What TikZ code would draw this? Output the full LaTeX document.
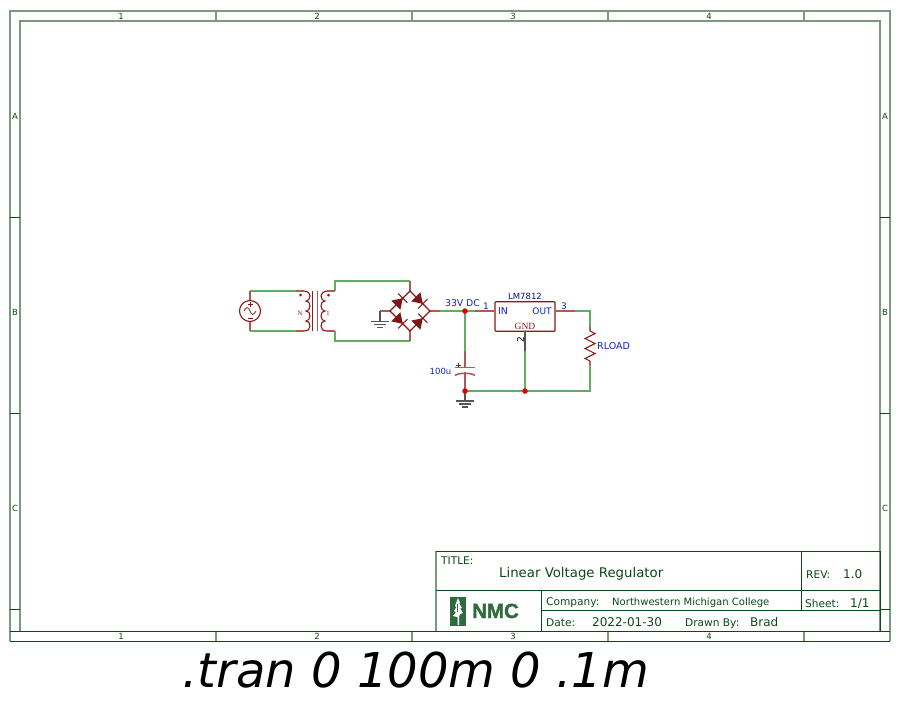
\documentclass[tikz,border=0pt]{standalone}
\usepackage{fontspec}
\setmainfont{DejaVu Sans}
\newfontfamily\serifish{Liberation Serif}
\newfontfamily\nmcfont[BoldFeatures={FakeBold=1.5}]{Liberation Sans}
\definecolor{frm}{HTML}{0B4A14}
\definecolor{frml}{HTML}{7A9A80}
\definecolor{wire}{HTML}{62AD62}
\definecolor{pinc}{HTML}{8B1818}
\definecolor{pinl}{HTML}{AE5A5A}
\definecolor{lab}{HTML}{1020C8}
\definecolor{gndc}{HTML}{555555}
\definecolor{logo}{HTML}{2F6B3F}
% #1 centre, #2 #3 unit direction on the page (y upward)
\newcommand{\diodeat}[3]{\begin{scope}[shift={(#1)},x={(#2pt,#3pt)},y={(-#3pt,#2pt)}]
 \fill[pinc!90!black] (-6,-6.5) -- (4,0) -- (-6,6.5) -- cycle;
 \draw[pinpath] (4,-6.5) -- (4,6.5);
\end{scope}}
\newcommand{\gndat}[1]{\begin{scope}[shift={(#1)}]
 \draw[gndwire] (-9,0) -- (9,0); \draw[gndwire] (-6,3) -- (6,3); \draw[gndwire] (-3,6) -- (3,6);
\end{scope}}
\tikzset{
 frameline/.style={draw=frml,line width=1.8pt},
 frameline2/.style={draw=frm,line width=1pt},
 tbline/.style={draw=frm,line width=1pt},
 tick/.style={font=\fontsize{8.5}{9}\selectfont,text=frm,inner sep=0pt},
 tbtext/.style={font=\fontsize{10.6}{11}\selectfont,text=frm,inner sep=0pt,anchor=base west},
 tbbig/.style={font=\fontsize{12}{13}\selectfont,text=frm,inner sep=0pt,anchor=base west},
 wirepath/.style={draw=wire,line width=1.6pt},
 pinpath/.style={draw=pinc,line width=1.1pt},
 pinlite/.style={draw=pinl,line width=1.6pt},
 gndwire/.style={draw=gndc,line width=1.1pt},
 junction/.style={circle,fill=red!85!black,inner sep=0pt,minimum size=5.5pt},
 bluetext/.style={font=\fontsize{9}{10}\selectfont,text=lab,inner sep=0pt},
 redtext/.style={font=\serifish\fontsize{9.5}{10}\selectfont,text=pinc,inner sep=0pt},
 tiny/.style={font=\serifish\fontsize{6.5}{7}\selectfont,text=pinc,inner sep=0pt},
}
\begin{document}
\begin{tikzpicture}[x=1pt,y=-1pt]
\useasboundingbox (0,0) rectangle (900,705);
% frame
\draw[frameline] (10,641) -- (10,11) -- (890,11) -- (890,641);
\draw[frameline] (20,631) -- (20,21) -- (880,21) -- (880,631);
\foreach \x in {216,412,608,804}{
 \draw[frameline] (\x,11) -- (\x,21);
 \draw[frameline] (\x,631) -- (\x,641);}
\foreach \y in {217,413,609}{
 \draw[frameline2] (10,\y.5) -- (20,\y.5);
 \draw[frameline2] (880,\y.5) -- (890,\y.5);}
\draw[frameline2] (10,631.5) -- (890,631.5);
\draw[frameline2] (10,641.5) -- (890,641.5);
\foreach \x/\t in {121/1,317/2,513/3,709/4}{
 \node[tick] (tt\t) at (\x,16.5) {\t};
 \node[tick] (tb\t) at (\x,636.5) {\t};}
\foreach \y/\t in {116/A,312/B,508/C}{
 \node[tick] (tl\t) at (15,\y) {\t};
 \node[tick] (tr\t) at (885,\y) {\t};}
% title block
\draw[frameline] (436,551) -- (436,631);
\draw[tbline] (436,551.5) -- (880.5,551.5) -- (880.5,631);
\draw[tbline] (436,590.5) -- (880.5,590.5);
\draw[tbline] (801,551.5) -- (801,610.5);
\draw[tbline] (541,610.5) -- (880.5,610.5);
\draw[tbline] (541,590.5) -- (541,631);
\node[tbtext] (ttl) at (441,564.5) {TITLE:};
\node[tbbig,font=\fontsize{13.3}{14}\selectfont] (ttlv) at (499,577) {Linear Voltage Regulator};
\node[tbtext] (rev) at (806,578) {REV:};
\node[tbbig] (revv) at (843,578) {1.0};
\node[tbtext] (sht) at (805,607) {Sheet:};
\node[tbbig] (shtv) at (850,607) {1/1};
\node[tbtext] (cmp) at (546,605) {Company:};
\node[tbtext,font=\fontsize{10.05}{11}\selectfont] (cmpv) at (612,605) {Northwestern Michigan College};
\node[tbtext] (dat) at (546,626) {Date:};
\node[tbbig] (datv) at (592,626) {2022-01-30};
\node[tbtext] (drw) at (685,626) {Drawn By:};
\node[tbbig] (drwv) at (750,626) {Brad};
% logo
\fill[logo] (450,596.5) rectangle (466,626);
\fill[white] (458,598) -- (460,603) -- (459,603) -- (462,608) -- (460,608) -- (463,613) -- (460,614) -- (459,617) -- (459,625) -- (457.5,625) -- (457.5,617) -- (453,616) -- (456,612) -- (454,611) -- (456.5,607) -- (455,606) -- cycle;
\fill[logo] (457.4,604) rectangle (458.2,612);
\node[font=\nmcfont\bfseries\fontsize{20.5}{21}\selectfont,text=logo,inner sep=0pt,anchor=base west] (nmc) at (472,618) {NMC};
% sim directive
\node[font=\itshape\fontsize{48}{50}\selectfont,text=black,inner sep=0pt,anchor=base] (tran) at (416,687) {.tran 0 100m 0 .1m};

% --- schematic coordinates
\coordinate (srcTw) at (250,291); \coordinate (srcBw) at (250,331);
\coordinate (priT) at (296,291); \coordinate (priB) at (296,331);
\coordinate (secT) at (335,291); \coordinate (secB) at (335,331);
\coordinate (secTu) at (335,281); \coordinate (secBd) at (335,341);
\coordinate (brTp) at (410,281); \coordinate (brBp) at (410,341);
\coordinate (brT) at (410,291); \coordinate (brB) at (410,331);
\coordinate (brL) at (390,311); \coordinate (brR) at (430,311);
\coordinate (brLp) at (380,311); \coordinate (brRp) at (440,311);
\coordinate (g1t) at (380,321);
\coordinate (pin1w) at (475,311); \coordinate (pin1) at (495,311);
\coordinate (pin3) at (555,311); \coordinate (pin3w) at (575,311);
\coordinate (pin2) at (525,331); \coordinate (pin2w) at (525,351);
\coordinate (cor) at (590,311); \coordinate (rT) at (590,327); \coordinate (rB) at (590,365);
\coordinate (cbr) at (590,391);
\coordinate (capT) at (465,351); \coordinate (capP) at (465,367.5);
\coordinate (capN) at (465,372); \coordinate (g2t) at (465,401);

\node[circle,draw=pinc,line width=1.1pt,minimum size=21pt,inner sep=0pt] (src) at (250,311) {};
\node[draw=pinc,line width=1.1pt,rounded corners=0.8pt,minimum width=60pt,minimum height=29.5pt,inner sep=0pt] (ic) at (525,316.5) {};

% wires
\draw[wirepath] (srcTw) -- (priT);
\draw[wirepath] (srcBw) -- (priB);
\draw[wirepath] (secT) -- (secTu) -- (brTp);
\draw[wirepath] (secB) -- (secBd) -- (brBp);
\draw[wirepath] (brRp) -- (pin1w);
\draw[wirepath] (465,311) -- (capT);
\draw[wirepath] (465,391) -- (cbr) -- (rB);
\draw[wirepath] (525,391) -- (pin2w);
\draw[wirepath] (pin3w) -- (cor) -- (rT);
% pins
\draw[pinlite] (src) -- (srcTw);
\draw[pinlite] (src) -- (srcBw);
\draw[pinlite] (brTp) -- (brT);
\draw[pinlite] (brBp) -- (brB);
\draw[pinlite] (brL) -- (brLp);
\draw[pinlite] (brR) -- (brRp);
\draw[pinlite] (pin1w) -- (pin1);
\draw[pinlite] (pin3) -- (pin3w);
\draw[pinlite] (capT) -- (capP);
\draw[pinlite] (capN) -- (465,391);
\draw[pinlite] (rT) -- (590,331);
\draw[pinlite] (590,361) -- (rB);
\draw[pinpath] (590,331) -- (595,333.5) -- (585,338.5) -- (595,343.5) -- (585,348.5) -- (595,353.5) -- (585,358.5) -- (590,361);
\draw[gndwire] (brLp) -- (g1t);
\draw[gndwire] (465,391) -- (g2t);
\draw[gndwire,line width=1.4pt] (pin2) -- (pin2w);
\gndat{380,321.5}
\gndat{465,401}
\node[junction] (j1) at (465,311) {};
\node[junction] (j2) at (465,391) {};
\node[junction] (j3) at (525,391) {};
% source symbol
\draw[pinpath,line width=.8pt] (244,311) .. controls (246.5,306) and (248.5,307) .. (250,311) .. controls (251.5,315) and (253.5,316) .. (256,311);
\draw[pinpath,line width=.7pt] (247.5,304.5) -- (252.5,304.5) (250,302) -- (250,307);
\draw[pinpath,line width=.7pt] (247.5,318) -- (252.5,318);
% transformer
\draw[pinlite] (priT) -- (304,291);
\draw[pinlite] (priB) -- (304,331);
\draw[pinlite] (secT) -- (327,291);
\draw[pinlite] (secB) -- (327,331);
\draw[pinpath] (304,291) .. controls (309,291) and (310,295) .. (310,296) .. controls (310,299) and (308,301) .. (306,301)
 .. controls (308.5,301) and (310,303) .. (310,306) .. controls (310,309) and (308,311) .. (306,311)
 .. controls (308.5,311) and (310,313) .. (310,316) .. controls (310,319) and (308,321) .. (306,321)
 .. controls (308.5,321) and (310,323) .. (310,326) .. controls (310,329) and (308,331) .. (304,331);
\draw[pinpath] (327,291) .. controls (323,291) and (321,295) .. (321,296) .. controls (321,299) and (323,301) .. (325,301)
 .. controls (322.5,301) and (321,303) .. (321,306) .. controls (321,309) and (323,311) .. (325,311)
 .. controls (322.5,311) and (321,313) .. (321,316) .. controls (321,319) and (323,321) .. (325,321)
 .. controls (322.5,321) and (321,323) .. (321,326) .. controls (321,329) and (323,331) .. (327,331);
\draw[pinpath] (312.8,291) -- (312.8,331);
\draw[pinlite] (317.5,291) -- (317.5,331);
\fill[pinc] (300.7,295) circle (1.5pt);
\fill[pinc] (328.5,295) circle (1.5pt);
\node[tiny] (nN) at (300,313) {N};
\node[tiny] (nI) at (328,313) {1};
% bridge
\draw[pinpath] (brT) -- (brR) -- (brB) -- (brL) -- cycle;
\diodeat{400,301}{0.707}{0.707}
\diodeat{420,301}{0.707}{-0.707}
\diodeat{400,321}{0.707}{-0.707}
\diodeat{420,321}{0.707}{0.707}
% capacitor
\draw[pinlite] (455,367.5) -- (475,367.5);
\draw[pinlite] (455,375.5) .. controls (459,372.5) and (471,372.5) .. (475,375.5);
\draw[pinpath,line width=.7pt] (455.5,365) -- (460.5,365) (458,362.5) -- (458,367);
% labels
\node[bluetext,font=\fontsize{9.3}{10}\selectfont] (lb33) at (462.5,303) {33V DC};
\node[bluetext] (lb1) at (486,306.5) {1};
\node[bluetext] (lb3) at (564,306.5) {3};
\node[bluetext,font=\fontsize{8.5}{9}\selectfont,text=lab!60!black] (lbU) at (525,296) {LM7812};
\node[bluetext,font=\fontsize{9.5}{10}\selectfont] (lbIn) at (503,311) {IN};
\node[bluetext] (lbOut) at (542,311) {OUT};
\node[redtext] (lbGnd) at (525,326) {GND};
\node[bluetext,rotate=90,text=black] (lb2) at (520.5,340) {2};
\node[bluetext,font=\fontsize{9.5}{10}\selectfont,anchor=west] (lbR) at (597,346) {RLOAD};
\node[bluetext,font=\fontsize{8.5}{9}\selectfont] (lbC) at (440.5,371.5) {100u};
\end{tikzpicture}
\end{document}
